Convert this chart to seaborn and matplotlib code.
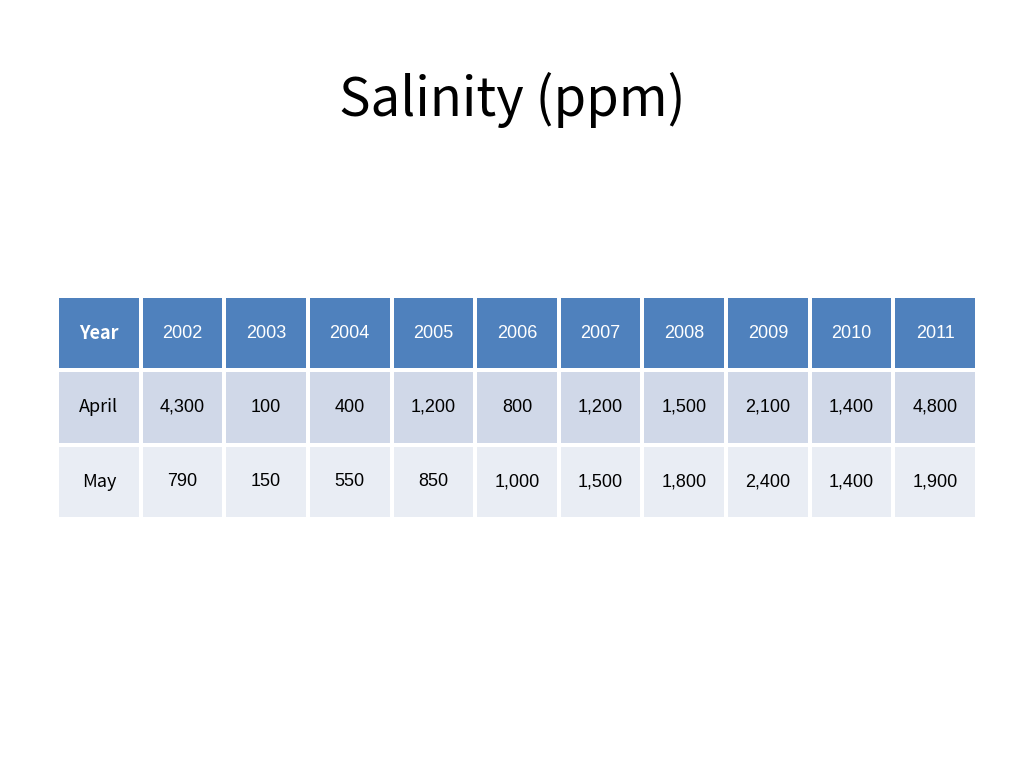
import matplotlib
matplotlib.use("Agg")
import matplotlib.pyplot as plt
import seaborn as sns
import numpy as np
from matplotlib.colors import ListedColormap

columns = ["Year", "2002", "2003", "2004", "2005", "2006", "2007", "2008", "2009", "2010", "2011"]
row_labels = ["April", "May"]
april = ["4,300", "100", "400", "1,200", "800", "1,200", "1,500", "2,100", "1,400", "4,800"]
may = ["790", "150", "550", "850", "1,000", "1,500", "1,800", "2,400", "1,400", "1,900"]

texts = np.array([columns, [row_labels[0]] + april, [row_labels[1]] + may])
shade = np.array([[0] * len(columns), [1] * len(columns), [2] * len(columns)])

fig = plt.figure(figsize=(10.24, 7.68), dpi=100)
fig.patch.set_facecolor("white")
ax = fig.add_axes([57 / 1024, (768 - 519) / 768, 920 / 1024, 223 / 768])
cmap = ListedColormap(["#4F81BD", "#D0D8E8", "#E9EDF4"])
sns.heatmap(shade, ax=ax, cmap=cmap, vmin=-0.5, vmax=2.5, cbar=False,
            annot=texts, fmt="", linewidths=1.5, linecolor="white",
            annot_kws={"fontsize": 13, "family": "Liberation Sans", "color": "black"})
ax.set_xticks([]); ax.set_yticks([])
for t in ax.texts:
    x, y = t.get_position()
    if y < 1:
        t.set_color("white")
    if t.get_text() in ["Year", "April", "May"]:
        t.set_family(["Noto Sans CJK KR", "DejaVu Sans"])
        t.set_fontsize(13)
    if t.get_text() == "Year":
        t.set_fontweight("bold")

fig.text(0.5, 1 - 100 / 768, "Salinity (ppm)", ha="center", va="center",
         fontsize=38, family=["Noto Sans CJK KR", "DejaVu Sans"])
fig.savefig("out.png", dpi=100, facecolor="white")
